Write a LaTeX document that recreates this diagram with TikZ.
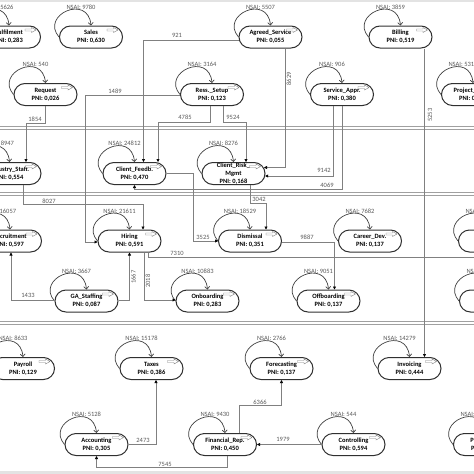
\documentclass[tikz,border=0pt]{standalone}
\usepackage{fontspec}
\setmainfont{Carlito}
\usepackage{tikz}
\usetikzlibrary{positioning,calc,arrows.meta}
\usepackage{xcolor}

\definecolor{boxline}{HTML}{303030}
\definecolor{loopgray}{HTML}{404040}
\definecolor{conngray}{HTML}{808080}
\definecolor{txtgray}{HTML}{595959}
\definecolor{lanegray}{HTML}{A0A0A0}
\definecolor{bandgray}{HTML}{E3E3E3}

% self loop, NSAI count and the little arrow icon of an activity
\newcommand{\actloop}[2]{%
  \draw[loopline] (#1.west) .. controls +(-19,-22) and +(-3,-32) .. (#1.north);
  \node[nsai] (#1-nsai) at ($(#1.north)+(-10,-18.5)$) {NSAI: #2};
  \draw[icon] ($(#1.north east)+(-16,3.5)$) -- ++(6.5,0) -- ++(0,-1.5) -- ++(4.5,2.5)
    -- ++(-4.5,2.5) -- ++(0,-1.5) -- ++(-6.5,0) -- cycle;
}

\begin{document}
\begin{tikzpicture}[x=1pt, y=-1pt,
  act/.style = {draw=boxline, line width=1pt, rounded corners=11pt, minimum width=63pt,
    minimum height=22pt, inner sep=0pt, align=center, font=\bfseries\fontsize{6.5}{8}\selectfont},
  conn/.style = {draw=conngray, line width=0.6pt, -{Triangle[length=3pt,width=3pt,color=black]}},
  lbl/.style = {text=txtgray, inner sep=0pt, font=\fontsize{6.5}{7}\selectfont},
  nsai/.style = {lbl},
  loopline/.style = {draw=loopgray, line width=0.7pt, -{Straight Barb[length=2.5pt,width=5pt]}},
  icon/.style = {draw=gray, line width=0.4pt, fill=white},
  lane/.style = {draw=lanegray, line width=0.7pt}]
\useasboundingbox (0,0) rectangle (474,474);
\clip (0,0) rectangle (474,474);

\fill[bandgray] (0,0) rectangle (474,2);
\fill[bandgray] (0,471) rectangle (474,474);

% lanes
\draw[lane] (0,126) -- (474,126) (0,129) -- (474,129);
\draw[lane] (0,192) -- (474,192) (0,195) -- (474,195);
\draw[lane] (0,321) -- (474,321) (0,324) -- (474,324);

% activities
\node[act] (sales) at (91,37) {Sales\\PNI: 0,630};
\node[act] (fulfil) [left=18pt of sales] {Fulfilment\\PNI: 0,283};
\node[act] (agreed) [right=115.5pt of sales] {Agreed\_Service\\PNI: 0,055};
\node[act] (billing) [right=66pt of agreed] {Billing\\PNI: 0,519};

\node[act] (request) at (45.5,94.5) {Request\\PNI: 0,026};
\node[act] (setup) [right=102.5pt of request] {Ress.\_Setup\\PNI: 0,123};
\node[act] (appr) [right=66pt of setup] {Service\_Appr.\\PNI: 0,380};
\node[act] (project) [right=67pt of appr] {Project\_Mgmt\\PNI: 0,212};

\node[act] (feedb) at (134.5,173.5) {Client\_Feedb.\\PNI: 0,470};
\node[act] (industry) [left=61pt of feedb] {Industry\_Staff.\\PNI: 0,554};
\node[act] (risk) [right=35pt of feedb] {Client\_Risk\_\\Mgmt\\PNI: 0,168};

\node[act] (hiring) at (129.5,241) {Hiring\\PNI: 0,591};
\node[act] (recruit) [left=55.5pt of hiring] {Recruitment\\PNI: 0,597};
\node[act] (dismissal) [right=56.5pt of hiring] {Dismissal\\PNI: 0,351};
\node[act] (careerdev) [right=56pt of dismissal] {Career\_Dev.\\PNI: 0,137};
\node[act] (leave) [right=56pt of careerdev] {Leave\\PNI: 0,240};

\node[act] (ga) at (86.5,301) {GA\_Staffing\\PNI: 0,087};
\node[act] (onboard) [right=57pt of ga] {Onboarding\\PNI: 0,283};
\node[act] (offboard) [right=57pt of onboard] {Offboarding\\PNI: 0,137};
\node[act] (hrplan) [right=98.5pt of offboard] {HR\_Planning\\PNI: 0,310};

\node[act] (taxes) at (151.5,368.5) {Taxes\\PNI: 0,386};
\node[act] (payroll) [left=64.5pt of taxes] {Payroll\\PNI: 0,129};
\node[act] (forecast) [right=66pt of taxes] {Forecasting\\PNI: 0,137};
\node[act] (invoice) [right=64pt of forecast] {Invoicing\\PNI: 0,444};

\node[act] (accounting) at (96.5,444.5) {Accounting\\PNI: 0,305};
\node[act] (finrep) [right=64.5pt of accounting] {Financial\_Rep.\\PNI: 0,450};
\node[act] (controlling) [right=64.5pt of finrep] {Controlling\\PNI: 0,594};
\node[act] (purchase) [right=67.5pt of controlling] {Purchasing\\PNI: 0,260};

\actloop{fulfil}{5626}
\actloop{sales}{9780}
\actloop{agreed}{5507}
\actloop{billing}{3859}
\actloop{request}{540}
\actloop{setup}{3164}
\actloop{appr}{906}
\actloop{project}{5313}
\actloop{industry}{8947}
\actloop{feedb}{24812}
\actloop{risk}{8276}
\actloop{recruit}{16057}
\actloop{hiring}{21611}
\actloop{dismissal}{18529}
\actloop{careerdev}{7682}
\actloop{leave}{4410}
\actloop{ga}{3667}
\actloop{onboard}{10883}
\actloop{offboard}{9051}
\actloop{hrplan}{2205}
\actloop{payroll}{8633}
\actloop{taxes}{15178}
\actloop{forecast}{2766}
\actloop{invoice}{14279}
\actloop{accounting}{5128}
\actloop{finrep}{9430}
\actloop{controlling}{544}
\actloop{purchase}{3120}

% handovers
\coordinate (out7310) at (480,257.5);

\draw[conn] ($(agreed.west)+(0,3)$) -| ($(feedb.north)+(9,0)$);
\draw[conn] ($(setup.west)+(0,1)$) -- ++(-95,0) |- ($(hiring.west)+(0,1)$);
\draw[conn] (request.south) -- ++(0,17) -| ($(industry.north)+(16.5,0)$);
\draw[conn] ($(setup.south)+(-2,0)$) -- ++(0,16) -| ($(feedb.north)+(23.5,0)$);
\draw[conn] ($(setup.south)+(11,0)$) -- ++(0,16) -| ($(risk.north)+(12.5,0)$);
\draw[conn] ($(agreed.south)+(14.5,0)$) |- ($(risk.east)+(-1.5,-6)$);
\draw[conn] ($(appr.south)+(-9,0)$) |- ($(risk.east)+(-0.3,2.5)$);
\draw[conn] (appr.south) -- ++(0,83) -| (feedb.south);
\draw[conn] ($(industry.south)+(13.5,0)$) -- ++(0,19.5) -| ($(hiring.north)+(13.5,0)$);
\draw[conn] (feedb.east) -- ++(26.5,0) |- (dismissal.west);
\draw[conn] ($(risk.south)+(16.5,0)$) -- ++(0,18) -| ($(dismissal.north)+(16,0)$);
\draw[conn] ($(hiring.south)+(18.5,0)$) |- (out7310);
\draw[conn] ($(dismissal.east)+(0,1)$) -| ($(offboard.north)+(6,0)$);
\draw[conn] ($(hiring.south)+(14.5,0)$) |- ($(onboard.west)+(0,-1)$);
\draw[conn] ($(ga.west)+(0,-1)$) -| ($(recruit.south)+(1,0)$);
\draw[conn] ($(ga.east)+(0,-1)$) -| (hiring.south);
\draw[conn] (accounting.east) -| ($(taxes.south)+(4.5,0)$);
\draw[conn] ($(finrep.south)+(2,0)$) -- ++(0,11) -| (accounting.south);
\draw[conn] ($(finrep.north)+(14,0)$) -- ++(0,-27.5) -| (forecast.south);
\draw[conn] (controlling.west) -- (finrep.east);
\draw[conn] ($(billing.south)+(24,0)$) -- ($(invoice.north)+(15,0)$);

\node[lbl] (l921) at (177,35) {921};
\node[lbl] (l1489) at (115,91) {1489};
\node[lbl] (l1854) at (35,119) {1854};
\node[lbl] (l4785) at (185,117) {4785};
\node[lbl] (l9524) at (233,117) {9524};
\node[lbl, rotate=90] (l8629) at (289,79) {8629};
\node[lbl] (l9142) at (324,170) {9142};
\node[lbl] (l4069) at (327,185.5) {4069};
\node[lbl] (l8027) at (49,201) {8027};
\node[lbl] (l3525) at (203,237) {3525};
\node[lbl] (l3042) at (259,199) {3042};
\node[lbl] (l7310) at (177,253) {7310};
\node[lbl] (l9887) at (307,237) {9887};
\node[lbl, rotate=90] (l2018) at (148,281) {2018};
\node[lbl] (l1433) at (28,295.5) {1433};
\node[lbl, rotate=90] (l1667) at (133.5,277) {1667};
\node[lbl] (l2473) at (143,440) {2473};
\node[lbl] (l7545) at (165,464) {7545};
\node[lbl] (l6366) at (260,402) {6366};
\node[lbl] (l1979) at (283,439) {1979};
\node[lbl, rotate=90] (l5253) at (430,115) {5253};
\end{tikzpicture}
\end{document}
